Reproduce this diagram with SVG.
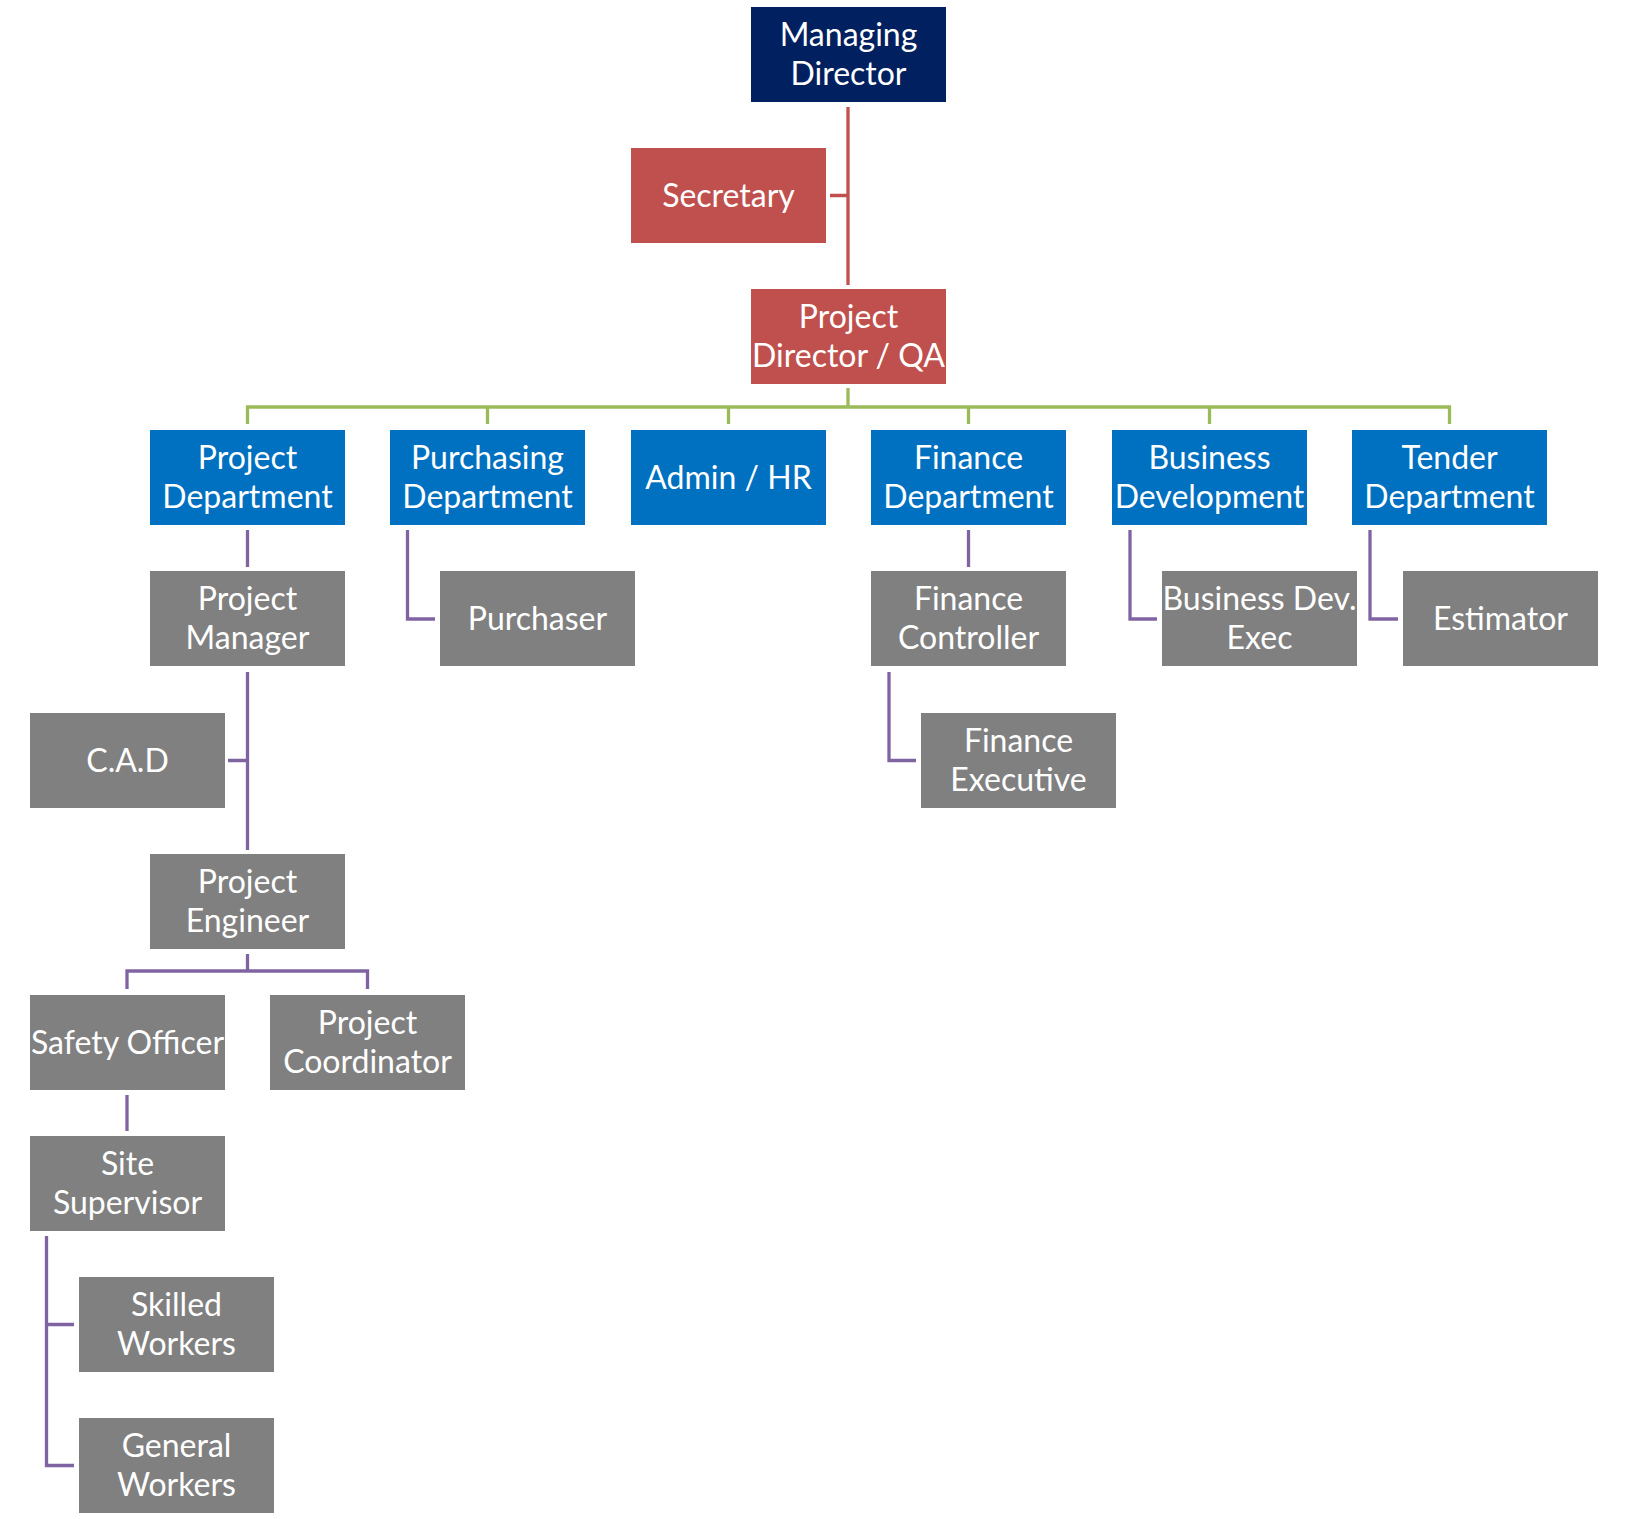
<svg xmlns="http://www.w3.org/2000/svg" width="1627" height="1519" viewBox="0 0 1627 1519">
<style>
.navy{fill:#002060}
.red{fill:#C0504D}
.blue{fill:#0070C0}
.gray{fill:#808080}
.t{fill:#FFFFFF;font-family:Lato,"Liberation Sans",sans-serif;font-size:32px;text-anchor:middle}
.cr{fill:none;stroke:#C0504D;stroke-width:3.3}
.cg{fill:none;stroke:#9BBB59;stroke-width:3.3}
.cp{fill:none;stroke:#8064A2;stroke-width:3.3}
</style>
<rect width="1627" height="1519" fill="#FFFFFF"/>
<g id="connectors">
<path class="cr" d="M848,107V285M830,195.5H848"/>
<path class="cg" d="M848,388V407M247.5,424V407H1449.5V424M487.5,407V424M728.5,407V424M968.5,407V424M1209.5,407V424"/>
<path class="cp" d="M247.5,530V567M407.5,530V619H435M247.5,672V850M228,760.5H247.5M968.5,530V567M889,672V760.5H916M1130,530V619H1157M1370,530V619H1398M247.5,954V971M127,989V971H367.5V989M127,1095V1131M46.5,1236V1465.5H74M46.5,1324.5H74"/>
</g>
<g id="managing-director"><rect class="navy" x="751" y="7" width="195" height="95"/><text class="t" x="848.5" y="45.5">Managing</text><text class="t" x="848.5" y="84.5">Director</text></g>
<g id="secretary"><rect class="red" x="631" y="148" width="195" height="95"/><text class="t" x="728.5" y="206.5">Secretary</text></g>
<g id="project-director"><rect class="red" x="751" y="289" width="195" height="95"/><text class="t" x="848.5" y="327.5">Project</text><text class="t" x="848.5" y="366.5">Director / QA</text></g>
<g id="project-department"><rect class="blue" x="150" y="430" width="195" height="95"/><text class="t" x="247.5" y="468.5">Project</text><text class="t" x="247.5" y="507.5">Department</text></g>
<g id="purchasing-department"><rect class="blue" x="390" y="430" width="195" height="95"/><text class="t" x="487.5" y="468.5">Purchasing</text><text class="t" x="487.5" y="507.5">Department</text></g>
<g id="admin-hr"><rect class="blue" x="631" y="430" width="195" height="95"/><text class="t" x="728.5" y="488.5">Admin / HR</text></g>
<g id="finance-department"><rect class="blue" x="871" y="430" width="195" height="95"/><text class="t" x="968.5" y="468.5">Finance</text><text class="t" x="968.5" y="507.5">Department</text></g>
<g id="business-development"><rect class="blue" x="1112" y="430" width="195" height="95"/><text class="t" x="1209.5" y="468.5">Business</text><text class="t" x="1209.5" y="507.5">Development</text></g>
<g id="tender-department"><rect class="blue" x="1352" y="430" width="195" height="95"/><text class="t" x="1449.5" y="468.5">Tender</text><text class="t" x="1449.5" y="507.5">Department</text></g>
<g id="project-manager"><rect class="gray" x="150" y="571" width="195" height="95"/><text class="t" x="247.5" y="609.5">Project</text><text class="t" x="247.5" y="648.5">Manager</text></g>
<g id="purchaser"><rect class="gray" x="440" y="571" width="195" height="95"/><text class="t" x="537.5" y="629.5">Purchaser</text></g>
<g id="finance-controller"><rect class="gray" x="871" y="571" width="195" height="95"/><text class="t" x="968.5" y="609.5">Finance</text><text class="t" x="968.5" y="648.5">Controller</text></g>
<g id="business-dev-exec"><rect class="gray" x="1162" y="571" width="195" height="95"/><text class="t" x="1259.5" y="609.5">Business Dev.</text><text class="t" x="1259.5" y="648.5">Exec</text></g>
<g id="estimator"><rect class="gray" x="1403" y="571" width="195" height="95"/><text class="t" x="1500.5" y="629.5">Estimator</text></g>
<g id="cad"><rect class="gray" x="30" y="713" width="195" height="95"/><text class="t" x="127.5" y="771.5">C.A.D</text></g>
<g id="finance-executive"><rect class="gray" x="921" y="713" width="195" height="95"/><text class="t" x="1018.5" y="751.5">Finance</text><text class="t" x="1018.5" y="790.5">Executive</text></g>
<g id="project-engineer"><rect class="gray" x="150" y="854" width="195" height="95"/><text class="t" x="247.5" y="892.5">Project</text><text class="t" x="247.5" y="931.5">Engineer</text></g>
<g id="safety-officer"><rect class="gray" x="30" y="995" width="195" height="95"/><text class="t" x="127.5" y="1053.5">Safety Officer</text></g>
<g id="project-coordinator"><rect class="gray" x="270" y="995" width="195" height="95"/><text class="t" x="367.5" y="1033.5">Project</text><text class="t" x="367.5" y="1072.5">Coordinator</text></g>
<g id="site-supervisor"><rect class="gray" x="30" y="1136" width="195" height="95"/><text class="t" x="127.5" y="1174.5">Site</text><text class="t" x="127.5" y="1213.5">Supervisor</text></g>
<g id="skilled-workers"><rect class="gray" x="79" y="1277" width="195" height="95"/><text class="t" x="176.5" y="1315.5">Skilled</text><text class="t" x="176.5" y="1354.5">Workers</text></g>
<g id="general-workers"><rect class="gray" x="79" y="1418" width="195" height="95"/><text class="t" x="176.5" y="1456.5">General</text><text class="t" x="176.5" y="1495.5">Workers</text></g>
</svg>
